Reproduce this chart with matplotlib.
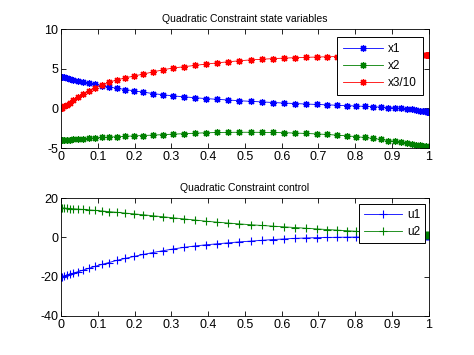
import matplotlib
matplotlib.use("Agg")
import matplotlib.pyplot as plt

t = [0, 0.0009, 0.0038, 0.0085, 0.0151, 0.0235, 0.0338, 0.0458, 0.0595, 0.0749,
     0.0919, 0.1105, 0.1305, 0.1519, 0.1747, 0.1987, 0.2238, 0.25, 0.2771, 0.3051,
     0.3338, 0.3632, 0.3930, 0.4232, 0.4537, 0.4844, 0.5156, 0.5463, 0.5768, 0.6070,
     0.6368, 0.6662, 0.6949, 0.7229, 0.75, 0.7762, 0.8013, 0.8253, 0.8481, 0.8695,
     0.8895, 0.9081, 0.9251, 0.9405, 0.9542, 0.9662, 0.9765, 0.9849, 0.9915, 0.9962,
     0.9991, 1.0]

x1 = [4.00, 3.99, 3.96, 3.91, 3.84, 3.75, 3.63, 3.50, 3.36, 3.20,
      3.03, 2.86, 2.70, 2.54, 2.38, 2.21, 2.05, 1.87, 1.72, 1.58,
      1.46, 1.35, 1.24, 1.15, 1.06, 0.97, 0.89, 0.82, 0.74, 0.67,
      0.61, 0.55, 0.50, 0.45, 0.40, 0.35, 0.30, 0.26, 0.21, 0.16,
      0.11, 0.06, 0.00, -0.06, -0.13, -0.20, -0.27, -0.33, -0.39, -0.44,
      -0.48, -0.50]

x2 = [-4.03, -4.02, -4.01, -3.99, -3.97, -3.94, -3.90, -3.86, -3.82, -3.77,
      -3.72, -3.67, -3.62, -3.57, -3.52, -3.47, -3.42, -3.37, -3.31, -3.25,
      -3.19, -3.13, -3.08, -3.04, -3.02, -3.01, -3.01, -3.02, -3.04, -3.07,
      -3.11, -3.16, -3.22, -3.29, -3.37, -3.46, -3.56, -3.67, -3.79, -3.92,
      -4.05, -4.17, -4.29, -4.40, -4.50, -4.59, -4.66, -4.73, -4.78, -4.82,
      -4.84, -4.85]

x3_10 = [0.00, 0.03, 0.11, 0.26, 0.46, 0.72, 1.03, 1.38, 1.77, 2.15,
         2.58, 2.98, 3.30, 3.58, 3.85, 4.08, 4.33, 4.60, 4.86, 5.10,
         5.25, 5.42, 5.58, 5.73, 5.88, 6.00, 6.12, 6.20, 6.28, 6.34,
         6.40, 6.44, 6.48, 6.51, 6.54, 6.56, 6.58, 6.60, 6.62, 6.64,
         6.66, 6.67, 6.69, 6.70, 6.72, 6.73, 6.74, 6.75, 6.76, 6.76,
         6.77, 6.77]

u1 = [-20.3, -20.2, -20.0, -19.7, -19.3, -18.8, -18.2, -17.5, -16.7, -15.8,
      -14.8, -13.8, -12.8, -11.7, -10.7, -9.7, -8.7, -7.7, -6.8, -5.9,
      -5.1, -4.4, -3.8, -3.3, -2.8, -2.3, -1.9, -1.5, -1.1, -0.8,
      -0.5, -0.3, -0.15, -0.05, 0.05, 0.1, 0.15, 0.2, 0.22, 0.25,
      0.28, 0.3, 0.33, 0.36, 0.4, 0.43, 0.47, 0.5, 0.53, 0.56,
      0.58, 0.6]

u2 = [15.0, 15.0, 14.95, 14.9, 14.8, 14.7, 14.55, 14.4, 14.2, 14.0,
      13.75, 13.45, 13.1, 12.75, 12.35, 11.95, 11.5, 11.0, 10.5, 9.95,
      9.4, 8.85, 8.25, 7.75, 7.3, 6.85, 6.45, 6.05, 5.7, 5.35,
      5.0, 4.65, 4.3, 4.0, 3.7, 3.4, 3.1, 2.85, 2.6, 2.4,
      2.2, 2.0, 1.85, 1.7, 1.6, 1.5, 1.45, 1.4, 1.35, 1.32,
      1.3, 1.3]

xticks = [0, 0.1, 0.2, 0.3, 0.4, 0.5, 0.6, 0.7, 0.8, 0.9, 1]
xticklabels = ["0", "0.1", "0.2", "0.3", "0.4", "0.5", "0.6", "0.7", "0.8", "0.9", "1"]
yticks_top = [-5, 0, 5, 10]
yticks_bot = [-40, -20, 0, 20]

plt.rcParams['font.family'] = ['Liberation Sans', 'DejaVu Sans']

BLUE = (0, 0, 1)
GREEN = (0, 0.5, 0)
RED = (1, 0, 0)
ASTERISK = (8, 2, 0)

fig = plt.figure(figsize=(4.74, 3.55), dpi=100)
fig.patch.set_facecolor('white')

ax1 = fig.add_axes([0.1287, 0.583, 0.776, 0.335])
ax2 = fig.add_axes([0.1287, 0.110, 0.776, 0.332])


def style(ax, yticks):
    ax.set_xlim(0, 1)
    ax.set_xticks(xticks)
    ax.set_xticklabels(xticklabels)
    ax.set_yticks(yticks)
    ax.set_yticklabels([str(v) for v in yticks])
    ax.set_ylim(yticks[0], yticks[-1])
    ax.tick_params(direction='in', top=True, right=True, length=3.5, width=0.6,
                   labelsize=9, pad=2, colors='black')
    for s in ax.spines.values():
        s.set_linewidth(0.6)


ms = 5
lw = 0.6
ax1.plot(t, x1, '-', marker=ASTERISK, color=BLUE, lw=lw, ms=ms, mew=0.9, label='x1')
ax1.plot(t, x2, '-', marker=ASTERISK, color=GREEN, lw=lw, ms=ms, mew=0.9, label='x2')
ax1.plot(t, x3_10, '-', marker=ASTERISK, color=RED, lw=lw, ms=ms, mew=0.9, label='x3/10')
style(ax1, yticks_top)
ax1.set_title('Quadratic Constraint state variables', fontsize=7.5, pad=5)
leg1 = ax1.legend(loc='upper right', fontsize=8.5, handlelength=3.4, frameon=True,
                  fancybox=False, borderaxespad=0.5, borderpad=0.5, labelspacing=0.45,
                  handletextpad=0.4, bbox_to_anchor=(1.0, 0.985))
leg1.get_frame().set_edgecolor('black')
leg1.get_frame().set_linewidth(0.7)
leg1.get_frame().set_alpha(1)

ax2.plot(t, u1, '-+', color=BLUE, lw=lw, ms=ms + 1, mew=0.8, label='u1')
ax2.plot(t, u2, '-+', color=GREEN, lw=lw, ms=ms + 1, mew=0.8, label='u2')
style(ax2, yticks_bot)
ax2.set_title('Quadratic Constraint control', fontsize=7.5, pad=5)
leg2 = ax2.legend(loc='upper right', fontsize=8.5, handlelength=3.2, frameon=True,
                  fancybox=False, borderaxespad=0.2, borderpad=0.45, labelspacing=0.4,
                  handletextpad=0.4, bbox_to_anchor=(0.997, 0.97))
leg2.get_frame().set_edgecolor('black')
leg2.get_frame().set_linewidth(0.7)
leg2.get_frame().set_alpha(1)

fig.savefig('out.png', dpi=100, facecolor='white')
